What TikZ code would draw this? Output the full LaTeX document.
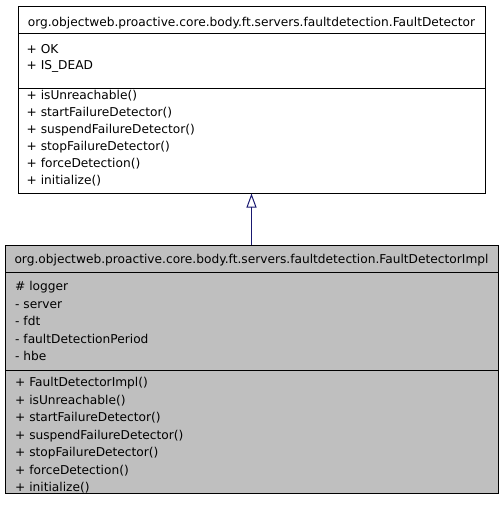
\documentclass[tikz,border=0pt]{standalone}
\usepackage{fontspec}
\setmainfont{DejaVu Sans}
\usetikzlibrary{arrows.meta}
\definecolor{umlgray}{RGB}{191,191,191}
\definecolor{umlnavy}{RGB}{25,25,112}
\tikzset{
  classbox/.style={draw=black, line width=1pt, inner sep=0pt},
  member/.style={anchor=base west, inner sep=0pt, font=\fontsize{12.2}{14}\selectfont},
  classname/.style={anchor=base, inner sep=0pt, font=\fontsize{12.2}{14}\selectfont},
  inherit/.style={draw=umlnavy, line width=1.4pt, -{Triangle[open, length=14pt, width=10pt, line width=1pt]}}
}
\begin{document}
\begin{tikzpicture}[x=1pt, y=-1pt]
\useasboundingbox (0,0) rectangle (503,506);
% Base class
\node[classbox, fill=white, minimum width=467pt, minimum height=187pt] (detector) at (251.5,99.5) {};
\draw[line width=1pt] (18,33) -- (485,33);
\draw[line width=1pt] (18,88) -- (485,88);
\node[classname] (detectorname) at (251.5,26.5) {org.objectweb.proactive.core.body.ft.servers.faultdetection.FaultDetector};
\foreach \txt [count=\i] in {+ OK, + IS\_DEAD}
  \node[member] (detectorattr\i) at (26.5,36.5+16.5*\i) {\txt};
\foreach \txt [count=\i] in {+ isUnreachable(), + startFailureDetector(), + suspendFailureDetector(),
    + stopFailureDetector(), + forceDetection(), + initialize()}
  \node[member] (detectorop\i) at (26.5,82.5+17*\i) {\txt};
% Implementation class
\node[classbox, fill=umlgray, minimum width=493pt, minimum height=248pt] (detectorimpl) at (251.5,369) {};
\draw[line width=1pt] (5,272) -- (498,272);
\draw[line width=1pt] (5,370) -- (498,370);
\node[classname] (implname) at (251.5,263.3) {org.objectweb.proactive.core.body.ft.servers.faultdetection.FaultDetectorImpl};
\foreach \txt [count=\i] in {\# logger, - server, - fdt, - faultDetectionPeriod, - hbe}
  \node[member] (implattr\i) at (15,273.5+17.4*\i) {\txt};
\foreach \txt [count=\i] in {+ FaultDetectorImpl(), + isUnreachable(), + startFailureDetector(),
    + suspendFailureDetector(), + stopFailureDetector(), + forceDetection(), + initialize()}
  \node[member] (implop\i) at (15,369+17.5*\i) {\txt};
% Generalization
\draw[inherit] (detectorimpl.north) -- (detector.south);
\end{tikzpicture}
\end{document}
